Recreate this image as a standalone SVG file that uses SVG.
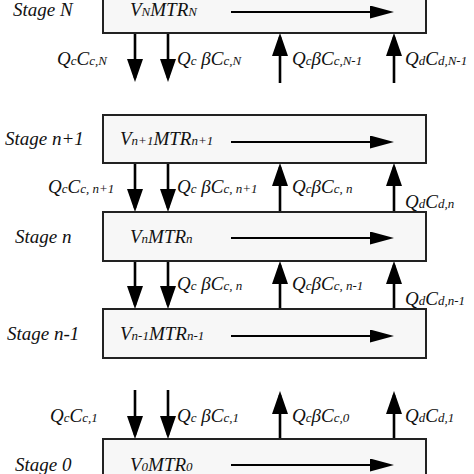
<svg xmlns="http://www.w3.org/2000/svg" width="474" height="474" viewBox="0 0 474 474">
<style>
text{font-family:"Liberation Serif","DejaVu Serif",serif;font-style:italic;fill:#111;}
.st{font-size:19px;}
.lb{font-size:19px;}
.s{font-size:13px;}
.box{fill:#f7f7f7;stroke:#222;stroke-width:2;}
.v{stroke:#000;stroke-width:2.6;fill:none;}
.h{stroke:#000;stroke-width:2.2;fill:none;}
</style>
<defs>
<marker id="av" markerUnits="userSpaceOnUse" markerWidth="23" markerHeight="16" refX="19" refY="8" orient="auto"><path d="M0,0 L23,8 L0,16 z" fill="#000"/></marker>
<marker id="ah" markerUnits="userSpaceOnUse" markerWidth="24" markerHeight="13" refX="20" refY="6.5" orient="auto"><path d="M0,0 L24,6.5 L0,13 z" fill="#000"/></marker>
</defs>
<g id="connectors">
<line class="v" x1="135" y1="33" x2="135" y2="78" marker-end="url(#av)"/>
<line class="v" x1="168" y1="33" x2="168" y2="78" marker-end="url(#av)"/>
<line class="v" x1="280" y1="83" x2="280" y2="37" marker-end="url(#av)"/>
<line class="v" x1="394" y1="83" x2="394" y2="37" marker-end="url(#av)"/>
<line class="v" x1="135" y1="163" x2="135" y2="208" marker-end="url(#av)"/>
<line class="v" x1="168" y1="163" x2="168" y2="208" marker-end="url(#av)"/>
<line class="v" x1="280" y1="212" x2="280" y2="167" marker-end="url(#av)"/>
<line class="v" x1="394" y1="212" x2="394" y2="167" marker-end="url(#av)"/>
<line class="v" x1="135" y1="261" x2="135" y2="305" marker-end="url(#av)"/>
<line class="v" x1="168" y1="261" x2="168" y2="305" marker-end="url(#av)"/>
<line class="v" x1="280" y1="309" x2="280" y2="265" marker-end="url(#av)"/>
<line class="v" x1="394" y1="309" x2="394" y2="265" marker-end="url(#av)"/>
<line class="v" x1="135" y1="390" x2="135" y2="435" marker-end="url(#av)"/>
<line class="v" x1="168" y1="390" x2="168" y2="435" marker-end="url(#av)"/>
<line class="v" x1="280" y1="439" x2="280" y2="395" marker-end="url(#av)"/>
<line class="v" x1="394" y1="439" x2="394" y2="395" marker-end="url(#av)"/>
<text class="lb" x="57" y="65">Q<tspan class="s">c</tspan>C<tspan class="s">c,N</tspan></text>
<text class="lb" x="177" y="65">Q<tspan class="s">c</tspan> βC<tspan class="s">c,N</tspan></text>
<text class="lb" x="292" y="65">Q<tspan class="s">c</tspan>βC<tspan class="s">c,N-1</tspan></text>
<text class="lb" x="405" y="65">Q<tspan class="s">d</tspan>C<tspan class="s">d,N-1</tspan></text>
<text class="lb" x="48" y="193">Q<tspan class="s">c</tspan>C<tspan class="s">c, n+1</tspan></text>
<text class="lb" x="177" y="193">Q<tspan class="s">c</tspan> βC<tspan class="s">c, n+1</tspan></text>
<text class="lb" x="292" y="193">Q<tspan class="s">c</tspan>βC<tspan class="s">c, n</tspan></text>
<text class="lb" x="405" y="208">Q<tspan class="s">d</tspan>C<tspan class="s">d,n</tspan></text>
<text class="lb" x="177" y="290">Q<tspan class="s">c</tspan> βC<tspan class="s">c, n</tspan></text>
<text class="lb" x="292" y="290">Q<tspan class="s">c</tspan>βC<tspan class="s">c, n-1</tspan></text>
<text class="lb" x="405" y="305">Q<tspan class="s">d</tspan>C<tspan class="s">d,n-1</tspan></text>
<text class="lb" x="50" y="422">Q<tspan class="s">c</tspan>C<tspan class="s">c,1</tspan></text>
<text class="lb" x="177" y="422">Q<tspan class="s">c</tspan> βC<tspan class="s">c,1</tspan></text>
<text class="lb" x="292" y="422">Q<tspan class="s">c</tspan>βC<tspan class="s">c,0</tspan></text>
<text class="lb" x="405" y="422">Q<tspan class="s">d</tspan>C<tspan class="s">d,1</tspan></text>
</g>
<g id="stageN">
<rect class="box" x="103" y="-15" width="323" height="48"/>
<text class="st" x="13" y="16">Stage N</text>
<text class="lb" x="130" y="16">V<tspan class="s">N</tspan>MTR<tspan class="s">N</tspan></text>
<line class="h" x1="231" y1="12" x2="390" y2="12" marker-end="url(#ah)"/>
</g>
<g id="stageNp1">
<rect class="box" x="103" y="115" width="323" height="48"/>
<text class="st" x="5" y="145">Stage n+1</text>
<text class="lb" x="120" y="145">V<tspan class="s">n+1</tspan>MTR<tspan class="s">n+1</tspan></text>
<line class="h" x1="231" y1="142" x2="390" y2="142" marker-end="url(#ah)"/>
</g>
<g id="stagen">
<rect class="box" x="103" y="212" width="323" height="49"/>
<text class="st" x="15" y="243">Stage n</text>
<text class="lb" x="130" y="243">V<tspan class="s">n</tspan>MTR<tspan class="s">n</tspan></text>
<line class="h" x1="231" y1="238" x2="390" y2="238" marker-end="url(#ah)"/>
</g>
<g id="stagenm1">
<rect class="box" x="103" y="309" width="323" height="49"/>
<text class="st" x="7" y="340">Stage n-1</text>
<text class="lb" x="120" y="340">V<tspan class="s">n-1</tspan>MTR<tspan class="s">n-1</tspan></text>
<line class="h" x1="231" y1="336" x2="390" y2="336" marker-end="url(#ah)"/>
</g>
<g id="stage0">
<rect class="box" x="103" y="439" width="323" height="48"/>
<text class="st" x="15" y="471">Stage 0</text>
<text class="lb" x="130" y="471">V<tspan class="s">0</tspan>MTR<tspan class="s">0</tspan></text>
<line class="h" x1="231" y1="465" x2="390" y2="465" marker-end="url(#ah)"/>
</g>
</svg>
